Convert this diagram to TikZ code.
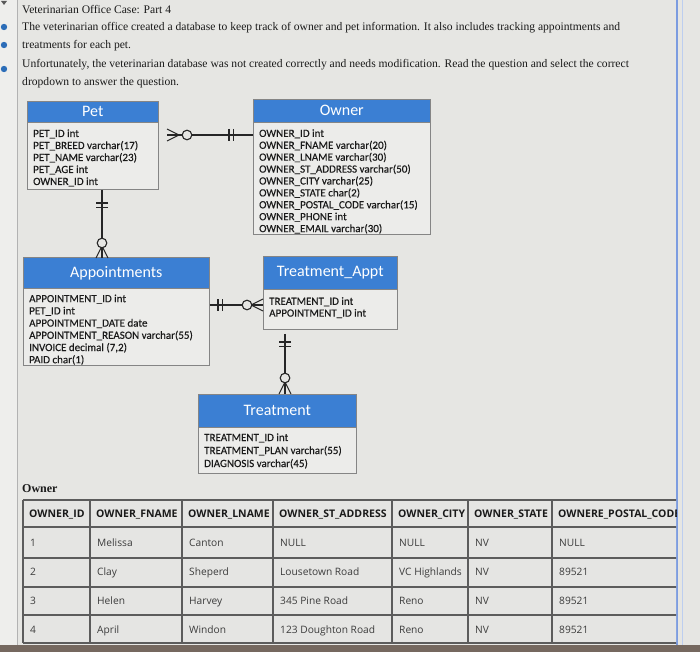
\documentclass[tikz,border=0pt]{standalone}
\usepackage{fontspec}
\setmainfont{Liberation Serif}
\newfontfamily\erfont[FakeBold=0.35]{Carlito}
\newfontfamily\erhfont{Carlito}
\newfontfamily\tabfont{Open Sans}
\definecolor{bgc}{HTML}{E6E6E3}
\definecolor{stripc}{HTML}{EEEEEC}
\definecolor{bulc}{HTML}{2C6DB8}
\definecolor{erblue}{HTML}{3B7FD3}
\definecolor{erbody}{HTML}{ECECEA}
\definecolor{ergray}{HTML}{858585}
\definecolor{tabline}{HTML}{5C5C5C}
\definecolor{tabfill}{HTML}{E5E5E3}
\definecolor{txt}{HTML}{1A1A1A}
\definecolor{edgeblue}{HTML}{7C9CE0}
\definecolor{bottomc}{HTML}{75685F}
\tikzset{
  para/.style={anchor=base west, inner sep=0, text=txt, font=\fontsize{11.6}{13}\selectfont},
  hdr/.style={anchor=north west, inner sep=0, fill=erblue, draw=ergray, line width=0.6, text=white, font=\erhfont\fontsize{16}{16}\selectfont},
  bodybox/.style={anchor=north west, inner sep=0, fill=erbody, draw=ergray, line width=0.8},
  fld/.style={anchor=base west, inner sep=0, text=txt, font=\erfont\fontsize{11}{12}\selectfont},
  conn/.style={line width=1.1, draw=black!85},
  th/.style={anchor=base west, inner sep=0, text=txt, font=\tabfont\bfseries\fontsize{10.5}{12}\selectfont},
  td/.style={anchor=base west, inner sep=0, text=txt!85, font=\tabfont\fontsize{10.2}{12}\selectfont},
  tgrid/.style={draw=tabline, line width=1.2},
  foot/.pic={\draw[conn] (0,-6) -- (12,0) -- (0,6); \draw[conn] (0,0) -- (12,0);},
  ring/.pic={\draw[conn, fill=bgc] (0,0) circle (4.8);},
  bars/.pic={\draw[conn] (0,-6) -- (0,6); \draw[conn] (4.5,-6) -- (4.5,6);},
}
\begin{document}
\begin{tikzpicture}[x=1pt,y=-1pt]
\useasboundingbox (0,0) rectangle (700,652);
% background / screen
\fill[bgc] (0,0) rectangle (700,652);
\fill[stripc] (0,0) rectangle (17,645);
\draw[gray!60, line width=0.8] (17,0) -- (17,645);
\fill[gray!70!black] (1,1) -- (7,1) -- (4,5) -- cycle;
\fill[bulc] (4,27) circle (3.2);
\fill[bulc] (4,45) circle (3.2);
\fill[bulc] (4,69) circle (3.2);
\draw[edgeblue, line width=1.6] (677,0) -- (677,645);
\draw[edgeblue!50, line width=0.6] (682,0) -- (682,645);
\fill[bottomc] (0,645) rectangle (700,652);

% text
\node[para] (title) at (22,14) {Veterinarian Office Case: Part 4};
\node[para] (l1) at (22,31) {The veterinarian office created a database to keep track of owner and pet information. It also includes tracking appointments and};
\node[para] (l2) at (22,49) {treatments for each pet.};
\node[para] (l3) at (22,68) {Unfortunately, the veterinarian database was not created correctly and needs modification. Read the question and select the correct};
\node[para] (l4) at (22,86) {dropdown to answer the question.};

% Pet
\node[hdr, minimum width=131, minimum height=21] (peth) at (27,101) {Pet};
\node[bodybox, minimum width=131, minimum height=67] (petb) at (27,122) {};
\foreach \t [count=\i] in {PET\_ID int, PET\_BREED varchar(17), PET\_NAME varchar(23), PET\_AGE int, OWNER\_ID int}
  \node[fld] (pet\i) at (33,125+12*\i) {\t};

% Owner
\node[hdr, minimum width=177, minimum height=23] (ownh) at (253,99) {Owner};
\node[bodybox, minimum width=177, minimum height=112] (ownb) at (253,122) {};
\foreach \t [count=\i] in {OWNER\_ID int, OWNER\_FNAME varchar(20), OWNER\_LNAME varchar(30), OWNER\_ST\_ADDRESS varchar(50), OWNER\_CITY varchar(25), OWNER\_STATE char(2), OWNER\_POSTAL\_CODE varchar(15), OWNER\_PHONE int, OWNER\_EMAIL varchar(30)}
  \node[fld] (own\i) at (259,125+11.9*\i) {\t};

% Appointments
\node[hdr, minimum width=186, minimum height=31] (apph) at (23,257) {Appointments};
\node[bodybox, minimum width=186, minimum height=77] (appb) at (23,288) {};
\foreach \t [count=\i] in {APPOINTMENT\_ID int, PET\_ID int, APPOINTMENT\_DATE date, APPOINTMENT\_REASON varchar(55), {INVOICE decimal (7,2)}, PAID char(1)}
  \node[fld] (app\i) at (29,290+12.2*\i) {\t};

% Treatment_Appt
\node[hdr, minimum width=134, minimum height=33] (tah) at (263,256) {Treatment\_Appt};
\node[bodybox, minimum width=134, minimum height=40] (tab) at (263,289) {};
\foreach \t [count=\i] in {TREATMENT\_ID int, APPOINTMENT\_ID int}
  \node[fld] (ta\i) at (269,293+11.8*\i) {\t};

% Treatment
\node[hdr, minimum width=158, minimum height=33] (trh) at (198,394) {Treatment};
\node[bodybox, minimum width=158, minimum height=46] (trb) at (198,427) {};
\foreach \t [count=\i] in {TREATMENT\_ID int, TREATMENT\_PLAN varchar(55), DIAGNOSIS varchar(45)}
  \node[fld] (tr\i) at (204,428+13*\i) {\t};

% connector Pet -- Owner
\coordinate (po) at (167,135);
\coordinate (poc) at (187,135);
\draw[conn] (po) -- (ownb.west |- po);
\pic at (po) {foot};
\pic at (poc) {ring};
\pic at (229,135) {bars};

% connector Pet -- Appointments
\coordinate (pa) at (102,258);
\coordinate (pac) at (102,243);
\draw[conn] (petb.south -| pa) -- (pa);
\pic[rotate=90] at (pa) {foot};
\pic at (pac) {ring};
\pic[rotate=-90] at (102,203) {bars};

% connector Appointments -- Treatment_Appt
\coordinate (at) at (263,305);
\coordinate (atc) at (247,305);
\draw[conn] (appb.east |- at) -- (at);
\pic[rotate=180] at (at) {foot};
\pic at (atc) {ring};
\pic at (218,305) {bars};

% connector Treatment_Appt -- Treatment
\coordinate (tt) at (285,394);
\coordinate (ttc) at (285,378);
\draw[conn] ([yshift=-4]tab.south -| tt) -- (tt);
\pic[rotate=90] at (tt) {foot};
\pic at (ttc) {ring};
\pic[rotate=-90] at (285,342) {bars};

% Owner table
\node[anchor=base west, inner sep=0, text=txt, font=\bfseries\fontsize{12}{13}\selectfont] (tabtitle) at (22,492) {Owner};
\begin{scope}
\clip (0,490) rectangle (676,646);
\fill[tabfill] (23,500) rectangle (720,643);
\foreach \x in {23,90,182,273,392,468,552} \draw[tgrid] (\x,500) -- (\x,643);
\foreach \y in {500,527,558,587,615,643} \draw[tgrid] (23,\y) -- (720,\y);
\foreach \t/\x [count=\i] in {OWNER\_ID/23, OWNER\_FNAME/90, OWNER\_LNAME/182, OWNER\_ST\_ADDRESS/273, OWNER\_CITY/392, OWNER\_STATE/468, OWNERE\_POSTAL\_CODE/552}
  \node[th] (th\i) at (\x+6,517) {\t};
\foreach \t/\x [count=\i] in {1/23, Melissa/90, Canton/182, NULL/273, NULL/392, NV/468, NULL/552}
  \node[td] (ra\i) at (\x+7,546) {\t};
\foreach \t/\x [count=\i] in {2/23, Clay/90, Sheperd/182, Lousetown Road/273, VC Highlands/392, NV/468, 89521/552}
  \node[td] (rb\i) at (\x+7,575) {\t};
\foreach \t/\x [count=\i] in {3/23, Helen/90, Harvey/182, 345 Pine Road/273, Reno/392, NV/468, 89521/552}
  \node[td] (rc\i) at (\x+7,604) {\t};
\foreach \t/\x [count=\i] in {4/23, April/90, Windon/182, 123 Doughton Road/273, Reno/392, NV/468, 89521/552}
  \node[td] (rd\i) at (\x+7,633) {\t};
\end{scope}
\end{tikzpicture}
\end{document}
